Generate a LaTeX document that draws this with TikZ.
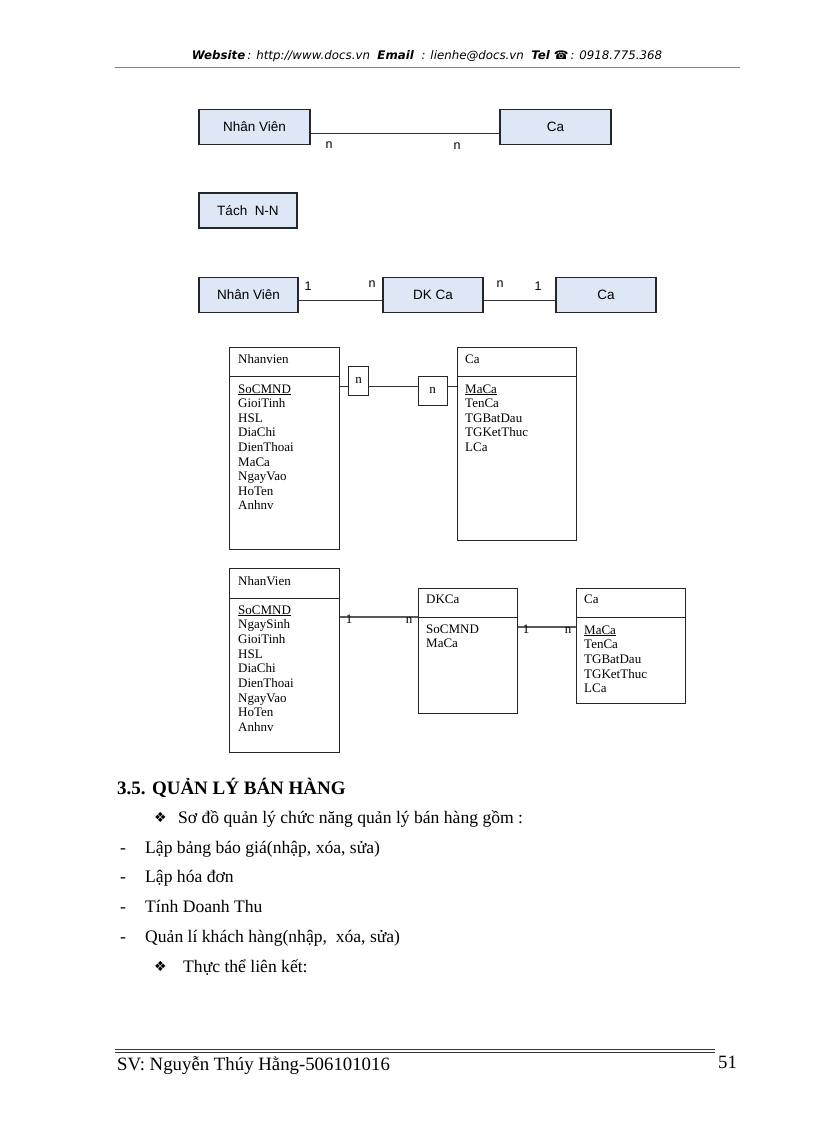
\documentclass[tikz,border=0pt]{standalone}
\usepackage{fontspec}
\setmainfont{Liberation Serif}
\newfontfamily\arialfont{Liberation Sans}
\newfontfamily\webfont{DejaVu Sans}
\usepackage{tikz}
\usetikzlibrary{positioning}
\definecolor{boxblue}{HTML}{DDE7F5}
\tikzstyle{ent} = [draw=black!85, line width=1.2pt, fill=boxblue, text centered, minimum height=35pt, inner sep=0pt, font=\arialfont\fontsize{13.5}{15}\selectfont]
\tikzstyle{card} = [inner sep=0pt, font=\arialfont\fontsize{12.5}{14}\selectfont]
\tikzstyle{tbl} = [draw=black!85, line width=0.8pt, inner sep=0pt, anchor=north west]
\tikzstyle{attr} = [anchor=base west, inner sep=0pt, font=\fontsize{13}{15}\selectfont]
\tikzstyle{txt} = [anchor=base west, inner sep=0pt, font=\fontsize{17.6}{19}\selectfont]
\tikzset{
  line/.style ={draw, line width=0.9pt, black!80},
  mult/.style ={draw=black!85, line width=0.8pt, inner sep=0pt, minimum height=29pt, font=\fontsize{13}{15}\selectfont}
}

\begin{document}
\begin{tikzpicture}[x=1pt,y=-1pt]
  \useasboundingbox[fill=white] (0,0) rectangle (816,1123);

  \node[anchor=base, inner sep=0pt, font=\webfont\fontsize{11.8}{14}\selectfont] (web) at (427,60)
    {\textbf{\textit{Website}}\,\textit{: http://www.docs.vn}\ \ \textbf{\textit{Email}}\ \ \textit{: lienhe@docs.vn}\ \ \textbf{\textit{Tel}} \textbf{☎}\,\textit{: 0918.775.368}};
  \draw[gray, line width=0.6pt] (115,67) -- (740,67);

  \node[ent, minimum width=111pt] (nv1) at (254.5,127) {Nhân Viên};
  \node[ent, minimum width=111pt] (ca1) at (555.5,127) {Ca};
  \node[card] (c1) at (329,145) {n};
  \node[card] (c2) at (457,146) {n};

  \node[ent, minimum width=98pt] (tach) at (248,210.5) {Tách\ \ N-N};

  \node[ent, minimum width=99pt] (nv2) at (248.5,295) {Nhân Viên};
  \node[ent, minimum width=100pt] (dk2) at (433,295) {DK Ca};
  \node[ent, minimum width=100pt] (ca2) at (606,295) {Ca};
  \node[card] (c3) at (308,286) {1};
  \node[card] (c4) at (372,284) {n};
  \node[card] (c5) at (500,284) {n};
  \node[card] (c6) at (538,286) {1};

  \begin{scope}[every path/.style=line]
    \path ([yshift=-6pt]nv1.east) -- ([yshift=-6pt]ca1.west);
    \path ([yshift=-5pt]nv2.east) -- ([yshift=-5pt]dk2.west);
    \path ([yshift=-5pt]dk2.east) -- ([yshift=-5pt]ca2.west);
  \end{scope}

  \node[tbl, minimum width=110pt, minimum height=202pt] (nvA) at (229,347) {};
  \draw[black!85, line width=0.8pt] ([yshift=-29pt]nvA.north west) -- ([yshift=-29pt]nvA.north east);
  \node[attr] (nvAt) at (238,363) {Nhanvien};
  \foreach \a [count=\i from 0] in {\underline{SoCMND},GioiTinh,HSL,DiaChi,DienThoai,MaCa,NgayVao,HoTen,Anhnv}
    \node[attr] (nvA-\i) at (238,393+14.6*\i) {\a};

  \node[tbl, minimum width=119pt, minimum height=193pt] (caA) at (457,347) {};
  \draw[black!85, line width=0.8pt] ([yshift=-29pt]caA.north west) -- ([yshift=-29pt]caA.north east);
  \node[attr] (caAt) at (465,363) {Ca};
  \foreach \a [count=\i from 0] in {\underline{MaCa},TenCa,TGBatDau,TGKetThuc,LCa}
    \node[attr] (caA-\i) at (465,393+14.6*\i) {\a};

  \node[mult, minimum width=20pt] (mA) at (358.5,380.5) {n};
  \node[mult, minimum width=29pt] (mB) at (432.5,390.5) {n};
  \coordinate (lvA) at (0,386);
  \begin{scope}[every path/.style=line]
    \path (nvA.east |- lvA) -- (mA.west |- lvA);
    \path (mA.east |- lvA) -- (mB.west |- lvA);
    \path (mB.east |- lvA) -- (caA.west |- lvA);
  \end{scope}

  \node[tbl, minimum width=110pt, minimum height=184pt] (nvB) at (229,568) {};
  \draw[black!85, line width=0.8pt] ([yshift=-30pt]nvB.north west) -- ([yshift=-30pt]nvB.north east);
  \node[attr] (nvBt) at (238,585) {NhanVien};
  \foreach \a [count=\i from 0] in {\underline{SoCMND},NgaySinh,GioiTinh,HSL,DiaChi,DienThoai,NgayVao,HoTen,Anhnv}
    \node[attr] (nvB-\i) at (238,614+14.7*\i) {\a};

  \node[tbl, minimum width=99pt, minimum height=125pt] (dkB) at (418,588) {};
  \draw[black!85, line width=0.8pt] ([yshift=-29pt]dkB.north west) -- ([yshift=-29pt]dkB.north east);
  \node[attr] (dkBt) at (426,603) {DKCa};
  \foreach \a [count=\i from 0] in {SoCMND,MaCa}
    \node[attr] (dkB-\i) at (426,633+14.7*\i) {\a};

  \node[tbl, minimum width=109pt, minimum height=115pt] (caB) at (576,588) {};
  \draw[black!85, line width=0.8pt] ([yshift=-29pt]caB.north west) -- ([yshift=-29pt]caB.north east);
  \node[attr] (caBt) at (584,603) {Ca};
  \foreach \a [count=\i from 0] in {\underline{MaCa},TenCa,TGBatDau,TGKetThuc,LCa}
    \node[attr] (caB-\i) at (584,634+14.7*\i) {\a};

  \coordinate (lvB) at (0,617);
  \coordinate (lvC) at (0,627);
  \begin{scope}[every path/.style={line, line width=1.2pt, black!65}]
    \path (nvB.east |- lvB) -- (dkB.west |- lvB);
    \path (dkB.east |- lvC) -- (caB.west |- lvC);
  \end{scope}
  \node[attr, anchor=base] (c7) at (349,623) {1};
  \node[attr, anchor=base] (c8) at (409,623) {n};
  \node[attr, anchor=base] (c9) at (526,633) {1};
  \node[attr, anchor=base] (c10) at (568,633) {n};

  \node[anchor=base west, inner sep=0pt, font=\bfseries\fontsize{19}{21}\selectfont] (sec) at (117,794) {3.5. QUẢN LÝ BÁN HÀNG};
  \node[anchor=base west, inner sep=0pt, font=\webfont\fontsize{14}{16}\selectfont] (b1) at (154,822) {❖};
  \node[txt] (t1) at (178,823) {Sơ đồ quản lý chức năng quản lý bán hàng gồm :};
  \foreach \s/\y [count=\i] in {{Lập bảng báo giá(nhập, xóa, sửa)}/853,{Lập hóa đơn}/882,{Tính Doanh Thu}/912,{Quản lí khách hàng(nhập,\ \ xóa, sửa)}/942}{
    \node[txt] (d\i) at (120,\y) {-};
    \node[txt] (l\i) at (145,\y) {\s};
  }
  \node[anchor=base west, inner sep=0pt, font=\webfont\fontsize{14}{16}\selectfont] (b2) at (154,971) {❖};
  \node[txt] (t2) at (183,972) {Thực thể liên kết:};

  \draw[black!80, line width=0.8pt] (115,1049) -- (715,1049);
  \draw[black!80, line width=0.8pt] (115,1052.5) -- (715,1052.5);
  \node[anchor=base west, inner sep=0pt, font=\fontsize{18.8}{20}\selectfont] (sv) at (117,1070) {SV: Nguyễn Thúy Hằng-506101016};
  \node[anchor=base west, inner sep=0pt, font=\fontsize{18.8}{20}\selectfont] (pg) at (718,1068) {51};
\end{tikzpicture}
\end{document}
